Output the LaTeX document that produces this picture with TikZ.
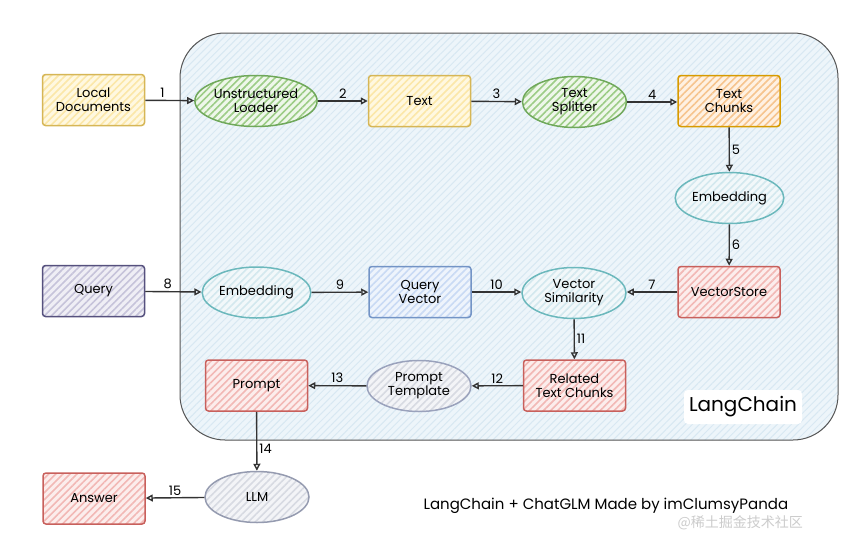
\documentclass[tikz,border=0pt]{standalone}
\usepackage{fontspec}
\setmainfont{Poppins}
\newfontfamily\cjk{Noto Sans CJK SC}
\usetikzlibrary{patterns.meta,arrows.meta,shapes.geometric}
\definecolor{yelB}{HTML}{D6B656}\definecolor{yelF}{HTML}{FFF8E0}\definecolor{yelH}{HTML}{FBE7A8}
\definecolor{grnB}{HTML}{6FA85A}\definecolor{grnF}{HTML}{EEF7EA}\definecolor{grnH}{HTML}{9CCC86}
\definecolor{orgB}{HTML}{D79B00}\definecolor{orgF}{HTML}{FFF1E2}\definecolor{orgH}{HTML}{F6C48E}
\definecolor{tealB}{HTML}{6BB8BC}\definecolor{tealF}{HTML}{F2F8FA}\definecolor{tealH}{HTML}{D3E8EE}
\definecolor{redB}{HTML}{C8605C}\definecolor{redF}{HTML}{FCEDEC}\definecolor{redH}{HTML}{F2B8B5}
\definecolor{bluB}{HTML}{7394C6}\definecolor{bluF}{HTML}{EEF4FC}\definecolor{bluH}{HTML}{C9DAF4}
\definecolor{purB}{HTML}{56517E}\definecolor{purF}{HTML}{EFEEF5}\definecolor{purH}{HTML}{C6C3DA}
\definecolor{gryB}{HTML}{9AA2BC}\definecolor{gryF}{HTML}{F3F4F7}\definecolor{gryH}{HTML}{D7DAE2}
\definecolor{conF}{HTML}{EDF5FA}\definecolor{conH}{HTML}{D8E8F2}\definecolor{conB}{HTML}{555555}
\definecolor{arrC}{HTML}{333333}
\begin{document}
\begin{tikzpicture}[x=1pt,y=-1pt,
  base/.style={line width=1.5pt, align=center, font=\fontsize{13}{14}\selectfont, text=black, inner sep=1pt},
  hatch/.style n args={3}{draw=#1, preaction={fill=#2}, pattern={Lines[angle=45,distance=5pt,line width=1.6pt]}, pattern color=#3},
  boxn/.style={base, rectangle, rounded corners=3pt, minimum width=102pt, minimum height=51pt},
  elln/.style={base, ellipse, minimum width=104pt, minimum height=51pt},
  arr/.style={line width=1.4pt, draw=arrC, -{Triangle[open,length=7pt,width=7pt]}},
  lbl/.style={font=\fontsize{13}{14}\selectfont, text=black, inner sep=2pt}
]
\useasboundingbox (0,0) rectangle (851,544);
\fill[white] (0,0) rectangle (851,544);
% container
\path[draw=conB, line width=1pt, rounded corners=45pt, preaction={fill=conF}, pattern={Lines[angle=45,distance=5pt,line width=1pt]}, pattern color=conH] (180,33) rectangle (838,440);
\node[fill=white, rounded corners=4pt, minimum width=118pt, minimum height=34pt, font=\fontsize{20}{21}\selectfont] (lc) at (743,407) {LangChain};

% nodes
\node[boxn, hatch={yelB}{yelF}{yelH}] (ld) at (93.5,100) {Local\\Documents};
\node[elln, hatch={grnB}{grnF}{grnH}] (ul) at (256,101) {Unstructured\\Loader};
\node[boxn, hatch={yelB}{yelF}{yelH}] (tx) at (419.5,101) {Text};
\node[elln, hatch={grnB}{grnF}{grnH}] (ts) at (574.5,102) {Text\\Splitter};
\node[boxn, hatch={orgB}{orgF}{orgH}] (tc) at (729,101) {Text\\Chunks};
\node[elln, hatch={tealB}{tealF}{tealH}] (em1) at (729.5,198) {Embedding};
\node[boxn, hatch={redB}{redF}{redH}] (vs) at (729,292) {VectorStore};
\node[elln, hatch={tealB}{tealF}{tealH}] (vsim) at (574,293) {Vector\\Similarity};
\node[boxn, hatch={bluB}{bluF}{bluH}] (qv) at (420,292) {Query\\Vector};
\node[elln, hatch={tealB}{tealF}{tealH}] (em2) at (256.5,292.5) {Embedding};
\node[boxn, hatch={purB}{purF}{purH}] (q) at (93.5,291) {Query};
\node[boxn, hatch={redB}{redF}{redH}] (rtc) at (574.5,385.5) {Related\\Text Chunks};
\node[elln, hatch={gryB}{gryF}{gryH}] (pt) at (419,386) {Prompt\\Template};
\node[boxn, hatch={redB}{redF}{redH}] (pr) at (256.5,385.5) {Prompt};
\node[elln, hatch={gryB!80!gray}{gryF}{gryH}] (llm) at (257,497) {LLM};
\node[boxn, hatch={redB}{redF}{redH}] (ans) at (94,498.5) {Answer};

% arrows
\draw[arr] (ld) -- node[lbl, above, pos=0.35]{1} (ul);
\draw[arr] (ul) -- node[lbl, above]{2} (tx);
\draw[arr] (tx) -- node[lbl, above]{3} (ts);
\draw[arr] (ts.east) -- node[lbl, above]{4} (tc.west|-ts.east);
\draw[arr] (tc) -- node[lbl, right]{5} (em1);
\draw[arr] (em1) -- node[lbl, right]{6} (vs);
\draw[arr] (vs) -- node[lbl, above]{7} (vsim.east|-vs.west);
\draw[arr] (q) -- node[lbl, above, pos=0.4]{8} (em2);
\draw[arr] (em2) -- node[lbl, above]{9} (qv);
\draw[arr] (qv) -- node[lbl, above]{10} (vsim.west|-qv.east);
\draw[arr] (vsim) -- node[lbl, right]{11} (rtc);
\draw[arr] (rtc) -- node[lbl, above]{12} (pt);
\draw[arr] (pt) -- node[lbl, above]{13} (pr);
\draw[arr] (pr) -- node[lbl, right, pos=0.62]{14} (llm);
\draw[arr] (llm) -- node[lbl, above]{15} (ans);

% footer
\node[font=\fontsize{15}{16}\selectfont, anchor=west] (ft) at (420,506) {LangChain + ChatGLM Made by imClumsyPanda};
\node[font=\cjk\fontsize{14}{15}\selectfont, text=gray!40, anchor=west] (wm) at (674,523) {@稀土掘金技术社区};
\end{tikzpicture}
\end{document}
